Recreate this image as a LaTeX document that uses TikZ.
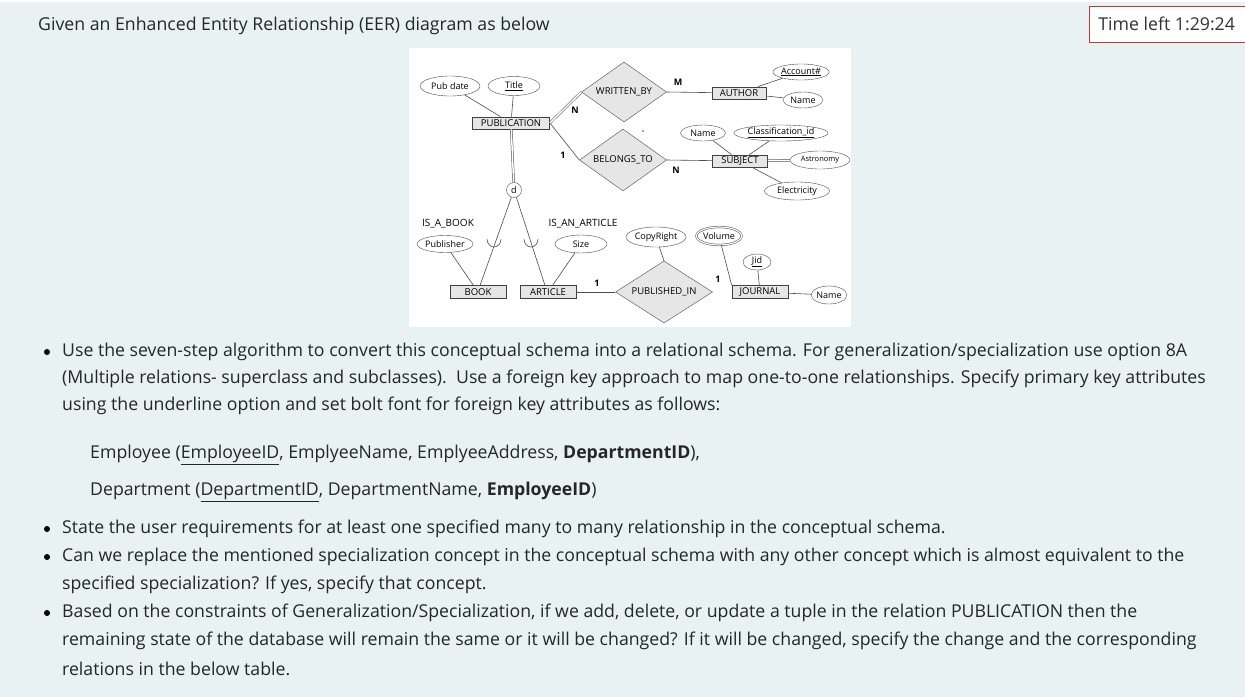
\documentclass[tikz,border=0pt]{standalone}
\usepackage{fontspec}
\setmainfont{Open Sans}
\usetikzlibrary{shapes.geometric}
\definecolor{bg}{HTML}{E8F2F3}
\definecolor{boxfill}{HTML}{E6E6E6}
\definecolor{timered}{HTML}{C0392B}
\tikzset{
 ent/.style={draw=black!75,fill=boxfill,inner sep=1pt,minimum height=12pt,font=\fontsize{9.5}{10}\selectfont,line width=0.8pt},
 rel/.style={diamond,draw=black!70,fill=boxfill,aspect=1.45,inner sep=0pt,font=\fontsize{9.5}{10}\selectfont},
 att/.style={ellipse,draw=black!70,inner sep=0pt,font=\fontsize{9}{10}\selectfont},
 lbl/.style={font=\bfseries\fontsize{9}{10}\selectfont,inner sep=0pt},
 txt/.style={anchor=west,inner sep=0pt,font=\fontsize{17.7}{20}\selectfont,text=black!85},
 ln/.style={draw=black!70,line width=0.6pt},
 dbl/.style={draw=black!70,double,double distance=1.5pt,line width=0.5pt},
 bul/.style={circle,fill=black,inner sep=0pt,minimum size=6pt}
}
\begin{document}
\begin{tikzpicture}[x=1pt,y=-1pt]
\fill[bg] (0,0) rectangle (1245,697);
\useasboundingbox (0,0) rectangle (1245,697);
\fill[white] (0,0) rectangle (1245,2);
\node[draw=timered,fill=white,anchor=north west,minimum width=160pt,minimum height=36pt,inner sep=0pt,text=black!80] (time) at (1089,6) {\fontsize{17.7}{20}\selectfont\hspace*{-5pt}Time left 1:29:24};
\node[txt] (q) at (38,26) {Given an Enhanced Entity Relationship (EER) diagram as below};
\fill[white] (409,48) rectangle (851,327);
% diagram
\node[ent,minimum width=77pt] (pub) at (511,123) {PUBLICATION};
\node[att,minimum width=60pt,minimum height=20pt] (pubdate) at (450,86) {Pub date};
\node[att,minimum width=52pt,minimum height=19pt] (title) at (514,86) {\underline{Title}};
\node[rel,minimum width=85pt,minimum height=60pt] (wb) at (624,92) {WRITTEN\_BY};
\node[ent,minimum width=54pt] (author) at (739,93) {AUTHOR};
\node[att,minimum width=52pt,minimum height=16pt] (acc) at (801,72) {\underline{Account\#}};
\node[att,minimum width=40pt,minimum height=16pt] (aname) at (803,100) {Name};
\node[rel,minimum width=87pt,minimum height=62pt] (bt) at (623,160) {BELONGS\_TO};
\node[ent,minimum width=55pt] (subj) at (740,161) {SUBJECT};
\node[att,minimum width=45pt,minimum height=16pt] (sname) at (703,133) {Name};
\node[att,minimum width=92pt,minimum height=16pt] (cid) at (781,133) {\underline{Classification\_id}};
\node[att,minimum width=60pt,minimum height=18pt,font=\fontsize{7.5}{8}\selectfont] (astro) at (820,160) {Astronomy};
\node[att,minimum width=65pt,minimum height=18pt] (elec) at (797,191) {Electricity};
\node[circle,draw=black!70,inner sep=0pt,minimum size=15pt,font=\fontsize{9}{10}\selectfont] (d) at (514,190) {d};
\node[font=\fontsize{10}{10}\selectfont,inner sep=0pt] (isab) at (448,224) {IS\_A\_BOOK};
\node[font=\fontsize{10}{10}\selectfont,inner sep=0pt] (isaa) at (583,224) {IS\_AN\_ARTICLE};
\node[ent,minimum width=56pt,minimum height=13pt] (book) at (478,292) {BOOK};
\node[ent,minimum width=56pt,minimum height=13pt] (art) at (548,292) {ARTICLE};
\node[att,minimum width=52pt,minimum height=17pt] (publ) at (445,244) {Publisher};
\node[att,minimum width=52pt,minimum height=18pt] (size) at (581,244) {Size};
\node[rel,minimum width=97pt,minimum height=62pt] (pi) at (664,292) {PUBLISHED\_IN};
\node[ent,minimum width=56pt,minimum height=13pt] (jour) at (760,292) {JOURNAL};
\node[att,minimum width=55pt,minimum height=20pt] (copy) at (656,237) {CopyRight};
\node[att,minimum width=40pt,minimum height=18pt,double=white,double distance=1.2pt,line width=0.5pt] (vol) at (719,236) {Volume};
\node[att,minimum width=28pt,minimum height=16pt] (jid) at (757,262) {\underline{Jid}};
\node[att,minimum width=34pt,minimum height=18pt] (jname) at (829,295) {Name};
\node[lbl] (m1) at (678,82) {M};
\node[lbl] (n1) at (575,110) {N};
\node[lbl] (o1) at (563,155) {1};
\node[lbl] (n2) at (676,170) {N};
\node[lbl] (o2) at (597,283) {1};
\node[lbl] (o3) at (718,279) {1};
\fill[black!70] (643,131) circle (0.8pt);
\coordinate (bk) at (480,285.5);
\coordinate (ar) at (545,285.5);
% connectors
\draw[ln] (pubdate) -- (pub);
\draw[ln] (title) -- (pub);
\draw[dbl] (pub.east) -- (wb.west);
\draw[ln] (wb.east) -- (author);
\draw[ln] (author) -- (acc);
\draw[ln] (author) -- (aname);
\draw[ln] (pub.east) -- (bt.west);
\draw[ln] (bt.east) -- (subj);
\draw[ln] (subj) -- (sname);
\draw[ln] (subj) -- (cid);
\draw[dbl] (subj) -- (astro);
\draw[ln] (subj) -- (elec);
\draw[dbl] (pub) -- (d);
\draw[ln] (d) -- (bk);
\draw[ln] (d) -- (ar);
\draw[ln] (487,239) arc (180:360:7pt and 8pt);
\draw[ln] (524,239) arc (180:360:7pt and 8pt);
\draw[ln] (publ) -- (book);
\draw[ln] (size) -- (art);
\draw[ln] (art) -- (pi.west);
\draw[dbl] (pi.east) -- (jour);
\draw[ln] (copy) -- (pi.north);
\draw[ln] (vol) -- (jour.north west);
\draw[ln] (jid) -- (jour);
\draw[ln] (jour) -- (jname);
% text
\node[bul] (b1) at (47,352) {};
\node[txt] (t1) at (62,352) {Use the seven-step algorithm to convert this conceptual schema into a relational schema. For generalization/specialization use option 8A};
\node[txt] (t2) at (62,379) {(Multiple relations- superclass and subclasses).\ \ Use a foreign key approach to map one-to-one relationships. Specify primary key attributes};
\node[txt] (t3) at (62,406) {using the underline option and set bolt font for foreign key attributes as follows:};
\node[txt] (t4) at (90,455) {Employee (\underline{EmployeeID}, EmplyeeName, EmplyeeAddress, \textbf{DepartmentID}),};
\node[txt] (t5) at (90,492) {Department (\underline{DepartmentID}, DepartmentName, \textbf{EmployeeID})};
\node[bul] (b2) at (47,529) {};
\node[txt] (t6) at (62,529) {State the user requirements for at least one specified many to many relationship in the conceptual schema.};
\node[bul] (b3) at (47,557) {};
\node[txt] (t7) at (62,557) {Can we replace the mentioned specialization concept in the conceptual schema with any other concept which is almost equivalent to the};
\node[txt] (t8) at (62,585) {specified specialization? If yes, specify that concept.};
\node[bul] (b4) at (47,613) {};
\node[txt] (t9) at (62,613) {Based on the constraints of Generalization/Specialization, if we add, delete, or update a tuple in the relation PUBLICATION then the};
\node[txt] (t10) at (62,641) {remaining state of the database will remain the same or it will be changed? If it will be changed, specify the change and the corresponding};
\node[txt] (t11) at (62,669) {relations in the below table.};
\end{tikzpicture}
\end{document}
